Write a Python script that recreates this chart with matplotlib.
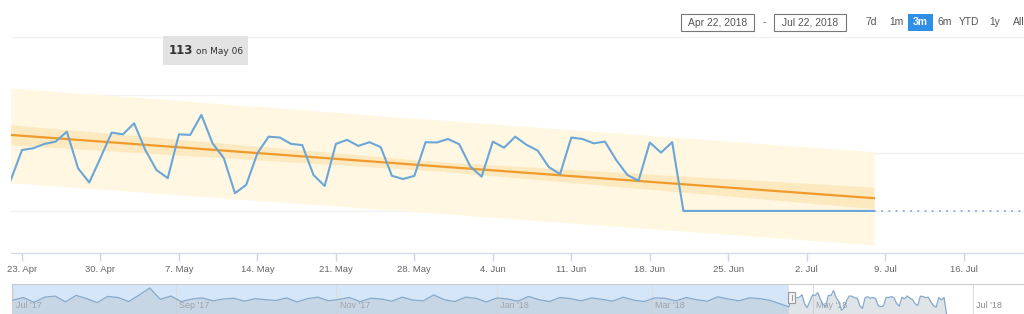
import numpy as np
import pandas as pd
import matplotlib
matplotlib.use("Agg")
import matplotlib.pyplot as plt
import matplotlib.dates as mdates
from matplotlib.patches import Rectangle

plt.rcParams['font.family'] = ['Liberation Sans', 'DejaVu Sans']

W, H = 1024, 314

# daily values shown in the main chart, Apr 22 - Jul 08 2018
start = "2018-04-22"
values = [107, 210, 216, 231, 239, 273, 147, 98, 183,
          270, 264, 302, 210, 141, 113, 264, 262, 331, 233,
          182, 61, 90, 199, 256, 253, 231, 227, 124, 86,
          231, 245, 224, 237, 220, 121, 110, 121, 237, 236, 248,
          230, 153, 118, 239, 218, 256, 228, 208, 151, 127,
          253, 248, 233, 239, 176, 124, 104, 236, 201, 237,
          0, 0, 0, 0, 0, 0, 0, 0, 0, 0,
          0, 0, 0, 0, 0, 0, 0, 0]

# linear trend and its bands (start, middle, end)
trend_days = ["2018-04-22", "2018-05-30", "2018-07-08"]
trend = [262, 154, 44]
outer_upper = [424, 314, 204]
outer_lower = [97, -8, -117]
inner_upper = [297, 170, 82]
inner_lower = [228, 138, 8]

# navigator history, every 4 days from Jul 01 2017
nav_start = "2017-07-01"
nav_values = [200, 235, 170, 240, 255, 175, 265, 220, 165, 250,
               235, 180, 270, 365, 210, 255, 180, 215, 230, 190,
               215, 225, 185, 220, 205, 195, 230, 175, 220, 240,
               190, 210, 235, 180, 225, 215, 185, 240, 200, 190,
               270, 205, 180, 240, 225, 175, 230, 215, 185, 250,
               205, 180, 235, 220, 190, 230, 210, 185, 240, 200,
               180, 230, 225, 190, 235, 205, 185, 245, 215, 190,
               230, 220, 195]

tooltip_value = "113"
tooltip_date = "on May 06"
range_from = "Apr 22, 2018"
range_to = "Jul 22, 2018"
buttons = ["7d", "1m", "3m", "6m", "YTD", "1y", "All"]
selected_button = "3m"


def rect(x0, y0, x1, y1):
    return [x0 / W, 1 - y1 / H, (x1 - x0) / W, (y1 - y0) / H]


def fx(x):
    return x / W


def fy(y):
    return 1 - y / H


dates = pd.date_range(start, periods=len(values), freq="D")
tdates = pd.to_datetime(trend_days)

fig = plt.figure(figsize=(10.24, 3.14), dpi=100)

# ---- main chart
ax = fig.add_axes(rect(10.8, 36, 1024, 253))
d0 = mdates.date2num(pd.Timestamp(start))
ax.set_xlim(d0, d0 + (1024 - 10.8) / 11.21)
ax.set_ylim(-145, 603)

ax.fill_between(tdates, outer_lower, outer_upper, color="#fff7e2", lw=0, zorder=1)
ax.fill_between(tdates, inner_lower, inner_upper, color="#fde9c0", lw=0, zorder=2)
ax.plot(tdates, trend, color="#ee9b2b", lw=1.6, zorder=3)
ax.plot(dates, values, color="#6ba6d8", lw=1.5, zorder=4)
ax.plot([dates[-1], pd.Timestamp("2018-07-22")], [0, 0], color="#93abc8",
        lw=1.3, ls=(0, (1, 3)), zorder=4)

ax.set_yticks([0, 200, 400, 600])
ax.yaxis.grid(True, color="#f2f2f2", lw=1)
ax.set_axisbelow(True)
ax.tick_params(axis="y", left=False, labelleft=False)

ticks = pd.date_range("2018-04-23", periods=13, freq="7D")
ax.set_xticks(ticks)
ax.set_xticklabels([f"{d.day}. {d:%b}" for d in ticks])
ax.tick_params(axis="x", length=6, width=1, color="#ccd6eb",
               labelcolor="#666666", labelsize=6.8, pad=3)
for s in ["top", "left", "right"]:
    ax.spines[s].set_visible(False)
ax.spines["bottom"].set_color("#ccd6eb")

# ---- navigator
nav = fig.add_axes(rect(12, 284, 1024, 314))
n0 = mdates.date2num(pd.Timestamp(nav_start))
nav.set_xlim(n0 - 1 / 2.63, n0 + (1024 - 13) / 2.63)
nav.set_ylim(10, 420)
nav_dates = pd.date_range(nav_start, periods=len(nav_values), freq="4D")
all_dates = nav_dates.append(dates)
all_vals = list(nav_values) + list(values)

nav.axvspan(n0 - 1, d0, color="#d4e6f7", lw=0, zorder=0)
months = pd.date_range("2017-07-01", periods=7, freq="2MS")
for m in months:
    nav.axvline(m, color="#dddddd", lw=0.8, zorder=1)
    nav.text(m + pd.Timedelta(days=1.2), 0.27, f"{m:%b} '{m:%y}",
             transform=nav.get_xaxis_transform(), fontsize=6.5,
             color="#8a8a8a", va="center", ha="left", zorder=2)
nav.fill_between(all_dates, 0, all_vals, color="#b9c4cf", alpha=0.45, lw=0, zorder=3)
nav.plot(all_dates, all_vals, color="#86a9cc", lw=0.9, zorder=4)
nav.set_xticks([])
nav.set_yticks([])
for s in ["bottom", "right"]:
    nav.spines[s].set_visible(False)
for s in ["top", "left"]:
    nav.spines[s].set_color("#cccccc")
    nav.spines[s].set_linewidth(0.8)

fig.add_artist(Rectangle((fx(788), fy(303)), 7 / W, 11 / H, transform=fig.transFigure,
                         facecolor="#f2f2f2", edgecolor="#999999", lw=0.8))
fig.add_artist(plt.Line2D([fx(791.5), fx(791.5)], [fy(300), fy(295)],
                          transform=fig.transFigure, color="#999999", lw=0.7))

# ---- range selector
for x0, x1, label in [(681, 754, range_from), (774, 846, range_to)]:
    fig.add_artist(Rectangle((fx(x0), fy(31)), (x1 - x0) / W, 17 / H,
                             transform=fig.transFigure, facecolor="white",
                             edgecolor="#777777", lw=0.8))
    fig.text(fx((x0 + x1) / 2), fy(22.5), label, fontsize=7.4, color="#555555",
             ha="center", va="center")
fig.text(fx(764), fy(22.5), "-", fontsize=7.2, color="#555555", ha="center", va="center")

btn_x = [871, 896, 920.5, 945, 969, 995, 1019]
for x, b in zip(btn_x, buttons):
    if b == selected_button:
        fig.add_artist(Rectangle((fx(908), fy(30.5)), 25 / W, 17 / H,
                                 transform=fig.transFigure, facecolor="#2f8fe6",
                                 edgecolor="none"))
        fig.text(fx(x), fy(22), b, fontsize=7.4, color="white", weight="bold",
                 ha="center", va="center")
    else:
        fig.text(fx(x), fy(22), b, fontsize=7.4, color="#555555",
                 ha="center", va="center")

# ---- tooltip
fig.add_artist(Rectangle((fx(163), fy(65)), 85 / W, 29 / H, transform=fig.transFigure,
                         facecolor="#e3e3e3", edgecolor="none"))
fig.text(fx(169), fy(50.5), tooltip_value, fontsize=8.5, weight="bold", color="#333333",
         ha="left", va="center", family="DejaVu Sans")
fig.text(fx(196), fy(51), tooltip_date, fontsize=6.5, color="#333333",
         ha="left", va="center", family="DejaVu Sans")

fig.savefig("out.png", dpi=100)
